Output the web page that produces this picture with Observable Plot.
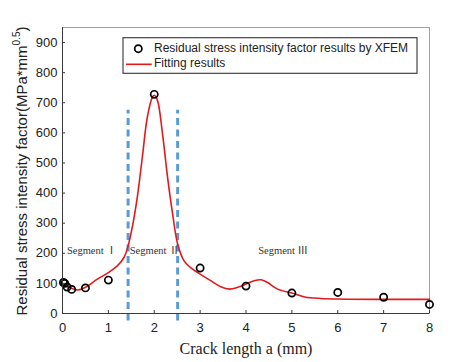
<!DOCTYPE html>
<html><head><meta charset="utf-8">
<script src="https://cdn.jsdelivr.net/npm/d3@7"></script>
<script src="https://cdn.jsdelivr.net/npm/@observablehq/plot@0.6"></script>
<style>
body{margin:0;background:#fff}
#chart{position:relative;width:474px;height:362px}
</style>
</head><body><div id="chart"></div>
<script>
// XFEM results
const crackLength = [0.02, 0.05, 0.1, 0.2, 0.5, 1, 2, 3, 4, 5, 6, 7, 8];
const sifXfem = [103, 100, 88, 80, 85, 111, 728, 151, 91, 68, 70, 54, 30];
// Fitting curve
const fitX = [0, 0.15, 0.33, 0.5, 0.76, 1.0, 1.2, 1.34, 1.43, 1.52, 1.63, 1.74, 1.85, 1.96, 2.0, 2.07, 2.18, 2.29, 2.4, 2.51, 2.65, 2.83, 3.0, 3.23, 3.45, 3.64, 3.82, 4.0, 4.18, 4.33, 4.47, 4.69, 5.0, 5.28, 5.64, 6.0, 7.0, 8.0];
const fitY = [96, 86, 78, 87, 114, 136, 159, 186, 225, 286, 386, 519, 653, 719, 725, 708, 597, 453, 331, 231, 175, 148, 131, 109, 89, 81, 87, 98, 109, 112, 103, 81, 68, 55, 50, 48, 47, 47];
// Segment boundaries
const boundaries = [1.43, 2.51];
const boundaryRange = [-25, 675];
// Segment labels
const segmentLabels = ["Segment Ⅰ", "Segment Ⅱ", "Segment Ⅲ"];
const segmentX = [0.64, 2.01, 4.81];
const segmentY = [209, 210, 210];
// Ticks
const xTicks = [0, 1, 2, 3, 4, 5, 6, 7, 8];
const yTicks = [0, 100, 200, 300, 400, 500, 600, 700, 800, 900];
const xTitle = "Crack length a (mm)";
const legendLabels = ["Residual stress intensity factor results by XFEM", "Fitting results"];

const points = crackLength.map((x, i) => ({x, y: sifXfem[i]}));
const fit = fitX.map((x, i) => ({x, y: fitY[i]}));
const segs = segmentLabels.map((t, i) => ({t, x: segmentX[i], y: segmentY[i]}));

const sans = "Arial, 'Liberation Sans', sans-serif";
const serif = "'Times New Roman', 'Liberation Serif', 'Noto Sans CJK SC', serif";
const red = "#e3191c";
const blue = "#5b9bd5";

const chart = Plot.plot({
  width: 474, height: 362,
  marginLeft: 62, marginRight: 45, marginTop: 27, marginBottom: 49,
  style: {fontFamily: sans, background: "#fff", color: "#222"},
  x: {domain: [0, 8]},
  y: {domain: [0, 950]},
  marks: [
    Plot.frame({stroke: "#a0a0a0"}),
    Plot.ruleX(boundaries, {y1: boundaryRange[0], y2: boundaryRange[1], stroke: blue, strokeWidth: 3, strokeDasharray: "7,4.5", clip: false}),
    Plot.line(fit, {x: "x", y: "y", stroke: red, strokeWidth: 1.6, curve: "catmull-rom"}),
    Plot.dot(points, {x: "x", y: "y", r: 3.6, stroke: "#000", strokeWidth: 1.7, fill: "none"}),
    Plot.text(segs, {x: "x", y: "y", text: "t", fontFamily: serif, fontSize: 10.5, fill: "#333"}),
    Plot.ruleY([0], {stroke: "#3a3a3a"}),
    Plot.ruleX([0], {stroke: "#3a3a3a"}),
    Plot.axisX({ticks: xTicks, tickSize: -3, tickPadding: 12, fontSize: 13, label: null, stroke: "#3a3a3a", fill: "#222"}),
    Plot.axisY({ticks: yTicks, tickSize: -3, tickPadding: 8, fontSize: 13, label: null, stroke: "#3a3a3a", fill: "#222"}),
    Plot.text([xTitle], {frameAnchor: "bottom", dy: 35, text: d => d, fontFamily: serif, fontSize: 16, fill: "#222", lineAnchor: "middle"})
  ]
});
document.getElementById("chart").appendChild(chart);

const svg = d3.select(chart);
// Y-axis title with superscript
const yt = svg.append("text")
  .attr("transform", "translate(23,171) rotate(-90)")
  .attr("text-anchor", "middle")
  .attr("dominant-baseline", "middle")
  .attr("font-family", sans)
  .attr("font-size", 15)
  .attr("fill", "#222");
yt.append("tspan").text("Residual stress intensity factor(MPa*mm");
yt.append("tspan").attr("font-size", 10).attr("dy", -6).text("0.5");
yt.append("tspan").attr("dy", 6).text(")");

// Legend
const lg = svg.append("g").attr("text-anchor", "start");
lg.append("rect").attr("x", 123).attr("y", 37.7).attr("width", 294).attr("height", 35.6)
  .attr("fill", "#fff").attr("stroke", "#333").attr("stroke-width", 1.1);
lg.append("circle").attr("cx", 138.3).attr("cy", 48.7).attr("r", 3.6)
  .attr("fill", "none").attr("stroke", "#000").attr("stroke-width", 1.7);
lg.append("line").attr("x1", 126).attr("x2", 151.7).attr("y1", 64.3).attr("y2", 64.3)
  .attr("stroke", red).attr("stroke-width", 1.6);
legendLabels.forEach((t, i) => {
  lg.append("text").attr("x", 154).attr("y", i ? 64.3 : 48.7)
    .attr("text-anchor", "start")
    .attr("dominant-baseline", "middle").attr("font-family", sans)
    .attr("font-size", 12).attr("fill", "#222").text(t);
});
</script>
</body></html>
